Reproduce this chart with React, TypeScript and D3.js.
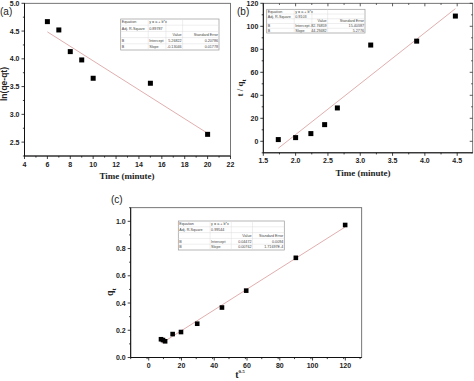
import React from "react";
import * as d3 from "d3";

// ---- data ----
const timeA = [6, 7, 8, 9, 10, 15, 20];
const lnQA = [4.67, 4.52, 4.13, 3.98, 3.65, 3.56, 2.64];
const fitA = [5.26822, -0.13046];
const tableA = [
  ["Equation", "y = a + b*x", "", ""],
  ["Adj. R-Square", "0.89787", "", ""],
  ["", "", "Value", "Standard Error"],
  ["B", "Intercept", "5.26822", "0.20786"],
  ["B", "Slope", "-0.13046", "0.01778"],
];

const timeB = [1.732, 2.0, 2.236, 2.449, 2.646, 3.162, 3.873, 4.472];
const tqB = [1.5, 3.2, 6.7, 14.5, 29, 83.7, 87.1, 108.9];
const fitB = [-82.76859, 44.29482];
const tableB = [
  ["Equation", "y = a + b*x", "", ""],
  ["Adj. R-Square", "0.9103", "", ""],
  ["", "", "Value", "Standard Error"],
  ["B", "Intercept", "-82.76859", "15.40387"],
  ["B", "Slope", "44.29482", "5.2776"],
];

const tC = [7.5, 8.7, 10, 14.6, 19.7, 29.6, 44.7, 59.5, 89.8, 119.9];
const qC = [0.134, 0.128, 0.119, 0.172, 0.187, 0.248, 0.367, 0.491, 0.732, 0.973];
const fitC = [0.04472, 0.00762];
const tableC = [
  ["Equation", "y = a + b*x", "", ""],
  ["Adj. R-Square", "0.99544", "", ""],
  ["", "", "Value", "Standard Error"],
  ["B", "Intercept", "0.04472", "0.0094"],
  ["B", "Slope", "0.00762", "1.71697E-4"],
];

const xTicksA = [4, 6, 8, 10, 12, 14, 16, 18, 20, 22];
const yTicksA = [2.5, 3.0, 3.5, 4.0, 4.5, 5.0];
const xTicksB = [1.5, 2.0, 2.5, 3.0, 3.5, 4.0, 4.5];
const yTicksB = [0, 20, 40, 60, 80, 100, 120];
const xTicksC = [0, 20, 40, 60, 80, 100, 120];
const yTicksC = [0.0, 0.2, 0.4, 0.6, 0.8, 1.0];

const SANS = "'Liberation Sans', Arial, sans-serif";
const SERIF = "'Liberation Serif', 'Times New Roman', serif";
const FIT = "#dca5a5";

type Cfg = {
  xd: [number, number]; xr: [number, number];
  yd: [number, number]; yr: [number, number];
  xt: number[]; yt: number[]; xMinor: number; yMinor: number;
  xFmt: (v: number) => string; yFmt: (v: number) => string;
  xs: number[]; ys: number[]; fit: number[]; fitX: [number, number];
  table: string[][]; tb: [number, number, number, number]; cols: number[];
  mirror?: boolean; ms: number;
};

function Table({ rows, box, cols }: { rows: string[][]; box: [number, number, number, number]; cols: number[] }) {
  const [x, y, w, h] = box;
  const rh = h / rows.length;
  const cx = cols.map((c) => x + c * w);
  return (
    <g>
      <rect x={x} y={y} width={w} height={h} fill="#fff" stroke="#999" strokeWidth={0.7} />
      {rows.map((_, i) => i > 0 ? <line key={"h" + i} x1={x} x2={x + w} y1={y + i * rh} y2={y + i * rh} stroke="#ddd" strokeWidth={0.5} /> : null)}
      {cx.slice(1, -1).map((c, i) => <line key={"v" + i} x1={c} x2={c} y1={y} y2={y + h} stroke="#ddd" strokeWidth={0.5} />)}
      {rows.map((r, i) =>
        r.map((t, j) => {
          if (!t) return null;
          const right = j >= 2;
          return (
            <text key={i + "-" + j} x={right ? cx[j + 1] - 1 : cx[j] + 1} y={y + (i + 0.5) * rh + 1.3}
              fontSize={3.7} fontFamily={SANS} fill="#444" textAnchor={right ? "end" : "start"}>{t}</text>
          );
        })
      )}
    </g>
  );
}

function Panel({ c }: { c: Cfg }) {
  const x = d3.scaleLinear().domain(c.xd).range(c.xr);
  const y = d3.scaleLinear().domain(c.yd).range(c.yr);
  const [x0, x1] = c.xr;
  const [y0, y1] = c.yr; // y0 bottom, y1 top
  const xm = d3.range(c.xd[0], c.xd[1] + 1e-9, c.xMinor).filter((v) => !c.xt.some((t) => Math.abs(t - v) < 1e-9));
  const ym = d3.range(Math.ceil(c.yd[0] / c.yMinor) * c.yMinor, c.yd[1] + 1e-9, c.yMinor).filter((v) => !c.yt.some((t) => Math.abs(t - v) < 1e-9));
  const line = d3.line<number>().x((v) => x(v)).y((v) => y(c.fit[0] + c.fit[1] * v));
  return (
    <g>
      <rect x={x0} y={y1} width={x1 - x0} height={y0 - y1} fill="none" stroke="#555" strokeWidth={0.8} />
      <line x1={x0} x2={x1} y1={y0} y2={y0} stroke="#111" strokeWidth={1} />
      <line x1={x0} x2={x0} y1={y0} y2={y1} stroke="#111" strokeWidth={1} />
      {c.xt.map((t) => (
        <g key={"xt" + t}>
          <line x1={x(t)} x2={x(t)} y1={y0} y2={y0 + 3} stroke="#111" strokeWidth={0.8} />
          {c.mirror && <line x1={x(t)} x2={x(t)} y1={y1} y2={y1 + 3} stroke="#333" strokeWidth={0.8} />}
          <text x={x(t)} y={y0 + 10.5} textAnchor="middle" fontSize={7} fontWeight="bold" fontFamily={SANS} fill="#222">{c.xFmt(t)}</text>
        </g>
      ))}
      {xm.map((t) => (
        <g key={"xm" + t}>
          <line x1={x(t)} x2={x(t)} y1={y0} y2={y0 + 1.6} stroke="#111" strokeWidth={0.8} />
          {c.mirror && <line x1={x(t)} x2={x(t)} y1={y1} y2={y1 + 1.6} stroke="#333" strokeWidth={0.8} />}
        </g>
      ))}
      {c.yt.map((t) => (
        <g key={"yt" + t}>
          <line x1={x0} x2={x0 - 3} y1={y(t)} y2={y(t)} stroke="#111" strokeWidth={0.8} />
          {c.mirror && <line x1={x1} x2={x1 - 3} y1={y(t)} y2={y(t)} stroke="#333" strokeWidth={0.8} />}
          <text x={x0 - 5} y={y(t) + 2.5} textAnchor="end" fontSize={7} fontWeight="bold" fontFamily={SANS} fill="#222">{c.yFmt(t)}</text>
        </g>
      ))}
      {ym.map((t) => (
        <g key={"ym" + t}>
          <line x1={x0} x2={x0 - 1.6} y1={y(t)} y2={y(t)} stroke="#111" strokeWidth={0.8} />
          {c.mirror && <line x1={x1} x2={x1 - 1.6} y1={y(t)} y2={y(t)} stroke="#333" strokeWidth={0.8} />}
        </g>
      ))}
      <path d={line(c.fitX) || ""} stroke={FIT} strokeWidth={0.9} fill="none" />
      {c.xs.map((v, i) => (
        <rect key={"p" + i} x={x(v) - c.ms / 2} y={y(c.ys[i]) - c.ms / 2} width={c.ms} height={c.ms} fill="#000" />
      ))}
      <Table rows={c.table} box={c.tb} cols={c.cols} />
    </g>
  );
}

const f1 = (v: number) => v.toFixed(1);
const f0 = (v: number) => v.toFixed(0);

const cfgA: Cfg = {
  xd: [4, 22], xr: [24.5, 230.5], yd: [2.25, 5.0], yr: [156, 3.3],
  xt: xTicksA, yt: yTicksA, xMinor: 1, yMinor: 0.25, xFmt: f0, yFmt: f1,
  xs: timeA, ys: lnQA, fit: fitA, fitX: [6, 20],
  table: tableA, tb: [120.7, 19, 98.3, 31], cols: [0, 0.28, 0.46, 0.63, 1], ms: 5,
};
const cfgB: Cfg = {
  xd: [1.5, 4.74], xr: [263.3, 472.7], yd: [-10, 120], yr: [152.8, 3.3],
  xt: xTicksB, yt: yTicksB, xMinor: 0.25, yMinor: 10, xFmt: f1, yFmt: f0,
  xs: timeB, ys: tqB, fit: fitB, fitX: [1.732, 4.472],
  table: tableB, tb: [266.7, 9.3, 98.3, 23.7], cols: [0, 0.28, 0.46, 0.62, 1], mirror: true, ms: 5,
};
const cfgC: Cfg = {
  xd: [-11, 130], xr: [130.7, 361.7], yd: [0, 1.1], yr: [357.5, 207.7],
  xt: xTicksC, yt: yTicksC, xMinor: 10, yMinor: 0.1, xFmt: f0, yFmt: f1,
  xs: tC, ys: qC, fit: fitC, fitX: [8, 120],
  table: tableC, tb: [178.3, 221, 106, 29], cols: [0, 0.3, 0.5, 0.7, 1], ms: 4.6,
};

export default function App() {
  return (
    <svg width={474} height={381} style={{ position: "absolute", left: 0, top: 0, background: "#fff" }}>
      <rect width={474} height={381} fill="#fff" />
      <Panel c={cfgA} />
      <Panel c={cfgB} />
      <Panel c={cfgC} />
      {/* panel labels */}
      <text x={0} y={15} fontSize={10} fontFamily={SANS} fill="#222">(a)</text>
      <text x={237} y={15} fontSize={10} fontFamily={SANS} fill="#222">(b)</text>
      <text x={111} y={203} fontSize={10} fontFamily={SANS} fill="#222">(c)</text>
      {/* axis titles */}
      <text x={127} y={179} textAnchor="middle" fontSize={9} fontWeight="bold" fontFamily={SERIF} fill="#222">Time (minute)</text>
      <text x={363} y={176} textAnchor="middle" fontSize={9} fontWeight="bold" fontFamily={SERIF} fill="#222">Time (minute)</text>
      <text transform="translate(7,84) rotate(-90)" textAnchor="middle" fontSize={8.5} fontWeight="bold" fontFamily={SANS} fill="#222">ln(qe-qt)</text>
      <text transform="translate(243,88) rotate(-90)" textAnchor="middle" fontSize={9} fontWeight="bold" fontFamily={SERIF} fill="#222">
        t / q<tspan fontSize={6.5} dy={2.5}>t</tspan>
      </text>
      <text transform="translate(113,292) rotate(-90)" textAnchor="middle" fontSize={10} fontWeight="bold" fontFamily={SERIF} fill="#222">
        q<tspan fontSize={7} dy={2.5}>t</tspan>
      </text>
      <text x={240} y={378} textAnchor="middle" fontSize={10} fontWeight="bold" fontFamily={SERIF} fill="#222">
        t<tspan fontSize={5} dy={-5}>0.5</tspan>
      </text>
    </svg>
  );
}
